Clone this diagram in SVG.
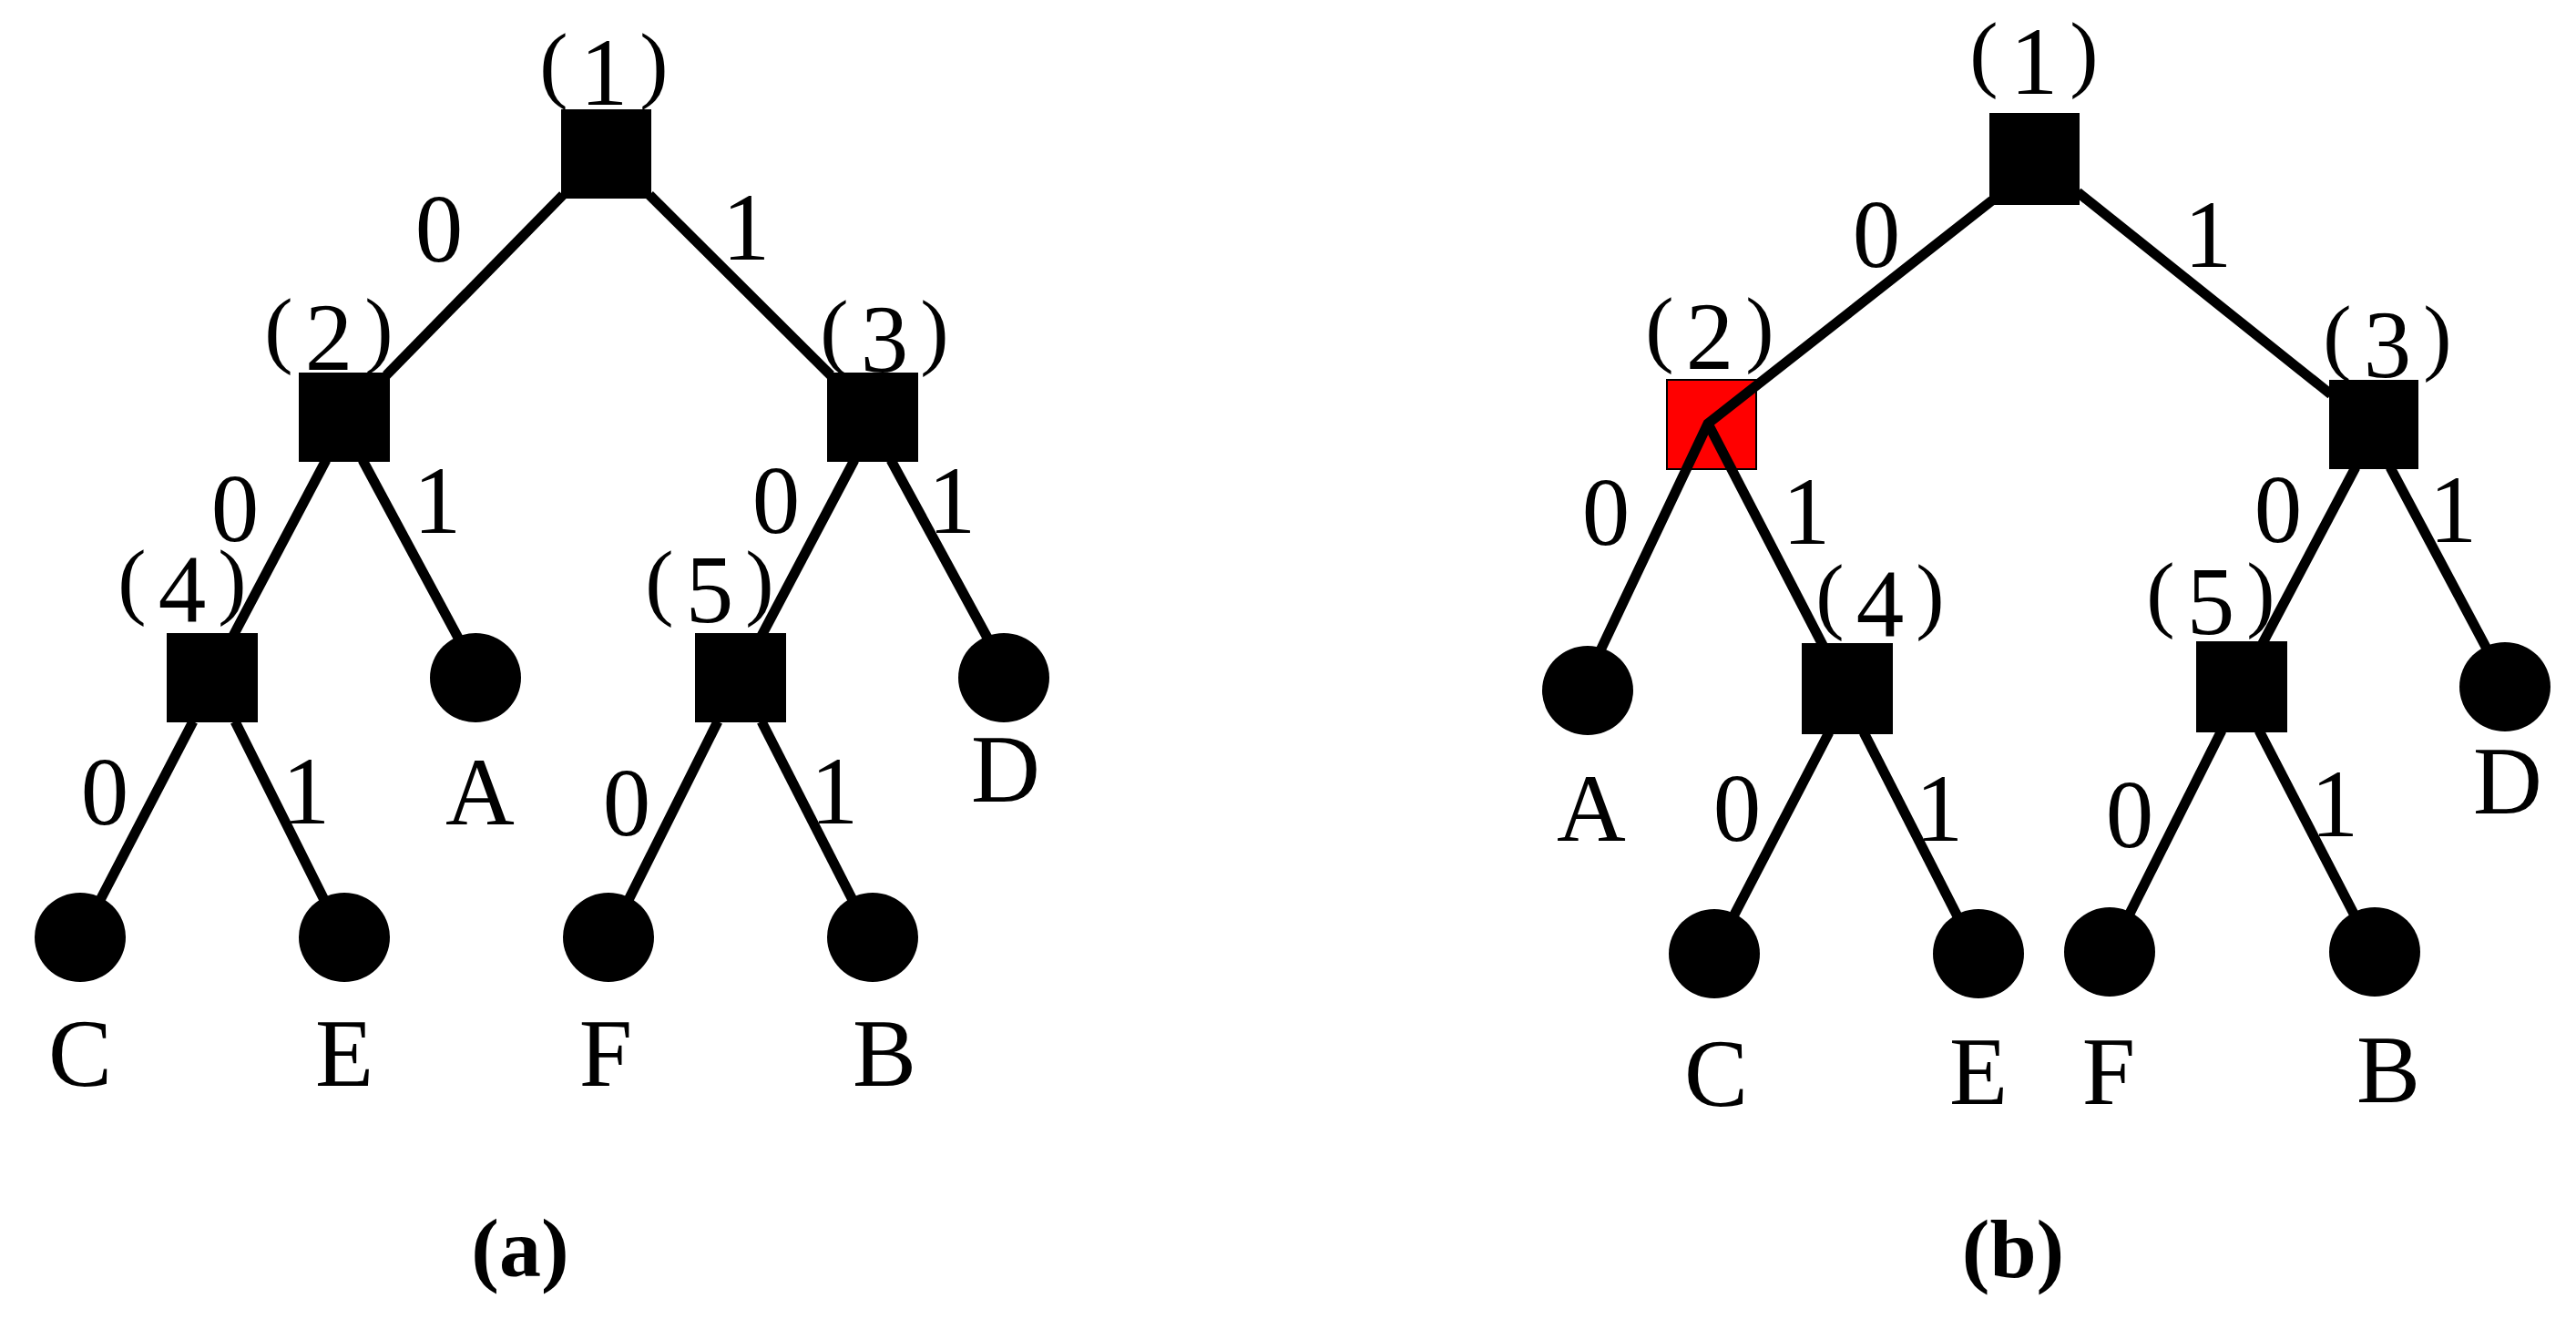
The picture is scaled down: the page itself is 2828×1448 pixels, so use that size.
<svg xmlns="http://www.w3.org/2000/svg" width="2828" height="1448" viewBox="0 0 2828 1448">
<style>
.t{font-family:"Liberation Serif","Times New Roman",serif;font-size:105px;fill:#000;text-anchor:middle}
.p{font-size:94px}
.cap{font-family:"Liberation Serif","Times New Roman",serif;font-size:92px;font-weight:bold;fill:#000;text-anchor:middle}
.e{stroke:#000;stroke-width:11;fill:none;stroke-linecap:butt;stroke-linejoin:miter}
.sq{fill:#000}
.lf{fill:#000}
.red{fill:#ff0000;stroke:#000;stroke-width:2}
</style>
<rect width="2828" height="1448" fill="#fff"/>

<!-- red node drawn beneath its connectors -->
<g id="b-n2">
  <rect class="red" x="1830" y="417" width="98" height="98"/>
  <text class="t"><tspan class="p" x="1822" y="391">(</tspan><tspan x="1877" y="405">2</tspan><tspan class="p" x="1932" y="391">)</tspan></text>
</g>

<g id="connectors">
  <!-- panel (a) -->
  <line class="e" x1="618" y1="214" x2="424" y2="412"/>
  <line class="e" x1="713" y1="214" x2="912" y2="412"/>
  <line class="e" x1="358" y1="505" x2="256" y2="698"/>
  <line class="e" x1="398" y1="505" x2="504" y2="702"/>
  <line class="e" x1="938" y1="505" x2="836" y2="698"/>
  <line class="e" x1="978" y1="505" x2="1085" y2="702"/>
  <line class="e" x1="212" y1="792" x2="110" y2="988"/>
  <line class="e" x1="258" y1="792" x2="356" y2="988"/>
  <line class="e" x1="788" y1="792" x2="690" y2="988"/>
  <line class="e" x1="836" y1="792" x2="936" y2="988"/>
  <text class="t" x="482" y="287">0</text>
  <text class="t" x="819" y="285">1</text>
  <text class="t" x="258" y="594">0</text>
  <text class="t" x="480" y="585">1</text>
  <text class="t" x="852" y="585">0</text>
  <text class="t" x="1045" y="585">1</text>
  <text class="t" x="115" y="905">0</text>
  <text class="t" x="336" y="904">1</text>
  <text class="t" x="688" y="917">0</text>
  <text class="t" x="916" y="904">1</text>
  <!-- panel (b) -->
  <polyline class="e" points="2187,220 1875,465 1757,714"/>
  <line class="e" x1="1875" y1="465" x2="2002" y2="710"/>
  <line class="e" x1="2281" y1="211" x2="2559" y2="433"/>
  <line class="e" x1="2586" y1="513" x2="2483" y2="708"/>
  <line class="e" x1="2624" y1="513" x2="2731" y2="714"/>
  <line class="e" x1="2008" y1="804" x2="1903" y2="1006"/>
  <line class="e" x1="2046" y1="804" x2="2149" y2="1006"/>
  <line class="e" x1="2439" y1="802" x2="2338" y2="1003"/>
  <line class="e" x1="2480" y1="802" x2="2584" y2="1003"/>
  <text class="t" x="2060" y="293">0</text>
  <text class="t" x="2424" y="293">1</text>
  <text class="t" x="1763" y="598">0</text>
  <text class="t" x="1983" y="597">1</text>
  <text class="t" x="2501" y="595">0</text>
  <text class="t" x="2693" y="595">1</text>
  <text class="t" x="1907" y="923">0</text>
  <text class="t" x="2129" y="923">1</text>
  <text class="t" x="2338" y="930">0</text>
  <text class="t" x="2563" y="918">1</text>
</g>

<!-- panel (a) nodes -->
<g id="a-n1">
  <rect class="sq" x="616" y="120" width="99" height="98"/>
  <text class="t"><tspan class="p" x="608" y="101">(</tspan><tspan x="663" y="115">1</tspan><tspan class="p" x="718" y="101">)</tspan></text>
</g>
<g id="a-n2">
  <rect class="sq" x="328" y="409" width="100" height="98"/>
  <text class="t"><tspan class="p" x="306" y="392">(</tspan><tspan x="361" y="406">2</tspan><tspan class="p" x="416" y="392">)</tspan></text>
</g>
<g id="a-n3">
  <rect class="sq" x="908" y="409" width="100" height="98"/>
  <text class="t"><tspan class="p" x="916" y="394">(</tspan><tspan x="971" y="408">3</tspan><tspan class="p" x="1026" y="394">)</tspan></text>
</g>
<g id="a-n4">
  <rect class="sq" x="183" y="695" width="100" height="98"/>
  <text class="t"><tspan class="p" x="145" y="668">(</tspan><tspan x="200" y="682">4</tspan><tspan class="p" x="255" y="668">)</tspan></text>
</g>
<g id="a-n5">
  <rect class="sq" x="763" y="695" width="100" height="98"/>
  <text class="t"><tspan class="p" x="724" y="669">(</tspan><tspan x="779" y="683">5</tspan><tspan class="p" x="834" y="669">)</tspan></text>
</g>
<g id="a-A"><ellipse class="lf" cx="522" cy="744" rx="50" ry="49"/><text class="t" x="527" y="905">A</text></g>
<g id="a-D"><ellipse class="lf" cx="1102" cy="744" rx="50" ry="49"/><text class="t" x="1104" y="880">D</text></g>
<g id="a-C"><ellipse class="lf" cx="88" cy="1029" rx="50" ry="49"/><text class="t" x="88" y="1192">C</text></g>
<g id="a-E"><ellipse class="lf" cx="378" cy="1029" rx="50" ry="49"/><text class="t" x="378" y="1192">E</text></g>
<g id="a-F"><ellipse class="lf" cx="668" cy="1029" rx="50" ry="49"/><text class="t" x="665" y="1192">F</text></g>
<g id="a-B"><ellipse class="lf" cx="958" cy="1029" rx="50" ry="49"/><text class="t" x="971" y="1192">B</text></g>
<text class="cap" x="571" y="1401">(a)</text>

<!-- panel (b) nodes -->
<g id="b-n1">
  <rect class="sq" x="2184" y="124" width="99" height="101"/>
  <text class="t"><tspan class="p" x="2178" y="89">(</tspan><tspan x="2233" y="103">1</tspan><tspan class="p" x="2288" y="89">)</tspan></text>
</g>
<g id="b-n3">
  <rect class="sq" x="2557" y="417" width="98" height="98"/>
  <text class="t"><tspan class="p" x="2566" y="400">(</tspan><tspan x="2621" y="414">3</tspan><tspan class="p" x="2676" y="400">)</tspan></text>
</g>
<g id="b-n4">
  <rect class="sq" x="1978" y="706" width="100" height="100"/>
  <text class="t"><tspan class="p" x="2009" y="684">(</tspan><tspan x="2064" y="698">4</tspan><tspan class="p" x="2119" y="684">)</tspan></text>
</g>
<g id="b-n5">
  <rect class="sq" x="2411" y="704" width="100" height="100"/>
  <text class="t"><tspan class="p" x="2372" y="682">(</tspan><tspan x="2427" y="696">5</tspan><tspan class="p" x="2482" y="682">)</tspan></text>
</g>
<g id="b-A"><ellipse class="lf" cx="1743" cy="758" rx="50" ry="49"/><text class="t" x="1747" y="923">A</text></g>
<g id="b-D"><ellipse class="lf" cx="2750" cy="754" rx="50" ry="49"/><text class="t" x="2753" y="893">D</text></g>
<g id="b-C"><ellipse class="lf" cx="1882" cy="1047" rx="50" ry="49"/><text class="t" x="1884" y="1214">C</text></g>
<g id="b-E"><ellipse class="lf" cx="2172" cy="1047" rx="50" ry="49"/><text class="t" x="2172" y="1212">E</text></g>
<g id="b-F"><ellipse class="lf" cx="2316" cy="1045" rx="50" ry="49"/><text class="t" x="2315" y="1212">F</text></g>
<g id="b-B"><ellipse class="lf" cx="2607" cy="1045" rx="50" ry="49"/><text class="t" x="2622" y="1210">B</text></g>
<text class="cap" x="2210" y="1402">(b)</text>
</svg>
